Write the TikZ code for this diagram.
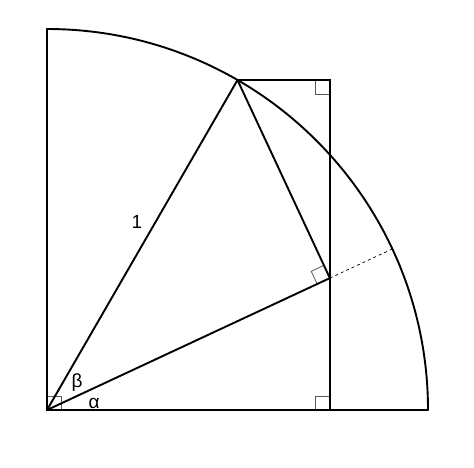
\documentclass[tikz,border=0pt]{standalone}
\usepackage{fontspec}
\setmainfont{Liberation Sans}
\begin{document}
\begin{tikzpicture}[x=1pt,y=1pt]
\useasboundingbox (0,0) rectangle (474,467);
\tikzset{edge/.style={line width=1.9pt,line cap=round},
  rmark/.style={line width=0.8pt,gray!70!black},
  lbl/.style={font=\fontsize{19}{21}\selectfont}}
\coordinate (O) at (47,57);
\coordinate (A) at (47,438);
\coordinate (E) at (428,57);
\coordinate (P) at ([shift={(60:381)}]O);
\coordinate (Q) at ([shift={(25:{381*cos(35)})}]O);
\coordinate (F) at ([shift={(25:381)}]O);
\coordinate (T) at (Q|-P);
\coordinate (B) at (Q|-O);
% right angle marks
\draw[rmark] ([shift={(0,14)}]O) -- ++(14,0) -- ++(0,-14);
\draw[rmark] ([shift={(-14,0)}]T) -- ++(0,-14) -- ++(14,0);
\draw[rmark] ([shift={(-14,0)}]B) -- ++(0,14) -- ++(14,0);
\draw[rmark] ([shift={(205:14)}]Q) -- ++(115:14) -- ++(25:14);
% quarter circle
\draw[edge] (A)--(O)--(E);
\draw[edge] (A) arc[radius=381,start angle=90,end angle=0];
% triangles and rectangle
\draw[edge] (O)--(P);
\draw[edge] (O)--(Q);
\draw[edge] (P)--(Q);
\draw[edge] (P)--(T)--(B);
\draw[dashed,line width=0.7pt] (Q)--(F);
\node[lbl] at (137,245) {1};
\node[lbl] at ([shift={(30,27)}]O) {β};
\node[lbl] at ([shift={(47,7)}]O) {α};
\end{tikzpicture}
\end{document}
